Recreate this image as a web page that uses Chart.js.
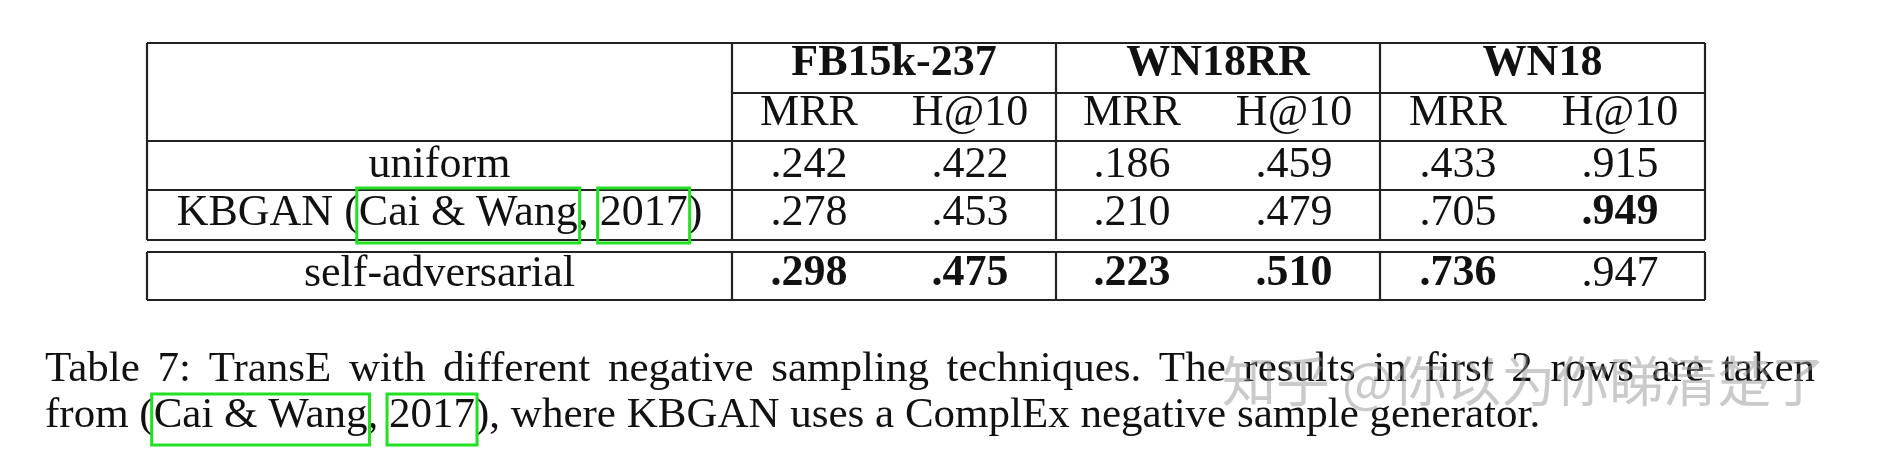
<!DOCTYPE html>
<html><head><meta charset="utf-8">
<script src="https://cdn.jsdelivr.net/npm/chart.js@4/dist/chart.umd.min.js"></script>
<style>html,body{margin:0;padding:0;background:#fff}#w{width:1899px;height:460px}</style>
</head><body><div id="w"><canvas id="c"></canvas></div>
<script>
const datasetNames = ["FB15k-237","WN18RR","WN18"];
const metrics = ["MRR","H@10"];
const rowLabels = ["uniform","KBGAN (Cai & Wang, 2017)","self-adversarial"];
const uniformVals = [".242",".422",".186",".459",".433",".915"];
const kbganVals = [".278",".453",".210",".479",".705",".949"];
const selfAdvVals = [".298",".475",".223",".510",".736",".947"];
const uniformBold = [0,0,0,0,0,0];
const kbganBold = [0,0,0,0,0,1];
const selfAdvBold = [1,1,1,1,1,0];
const captionLines = ["Table 7: TransE with different negative sampling techniques. The results in first 2 rows are taken",
  "from (Cai & Wang, 2017), where KBGAN uses a ComplEx negative sample generator."];
const watermark = "知乎 @你以为你睇清楚了";

const colX = [147,732,1056,1380,1705];
const metricX = [809,970,1132,1294,1458,1620];
const hY = [43,93,141,190,240,252,300];

const tablePlugin = {
  id:'table',
  afterDraw(chart){
    const c = chart.ctx, xs = chart.scales.x, ys = chart.scales.y;
    const X = v=>xs.getPixelForValue(v), Y = v=>ys.getPixelForValue(v);
    c.save();
    c.strokeStyle='#222'; c.lineWidth=2.2;
    const line=(x1,y1,x2,y2)=>{c.beginPath();c.moveTo(X(x1),Y(y1));c.lineTo(X(x2),Y(y2));c.stroke();};
    [hY[0],hY[2],hY[3],hY[4]].forEach(y=>line(colX[0],y,colX[4],y));
    line(colX[1],hY[1],colX[4],hY[1]);
    [hY[5],hY[6]].forEach(y=>line(colX[0],y,colX[4],y));
    colX.forEach(x=>{line(x,hY[0],x,hY[4]);line(x,hY[5],x,hY[6]);});
    c.fillStyle='#111'; c.textAlign='center'; c.textBaseline='middle';
    c.font='bold 44px "Liberation Serif"';
    datasetNames.forEach((n,i)=>c.fillText(n,X((colX[i+1]+colX[i+2])/2),Y(64)));
    c.font='44px "Liberation Serif"';
    metricX.forEach((x,i)=>c.fillText(metrics[i%2],X(x),Y(113)));
    const rows=[[uniformVals,uniformBold,165],[kbganVals,kbganBold,213],[selfAdvVals,selfAdvBold,274]];
    rows.forEach(([vals,bold,y],r)=>{
      c.font='44px "Liberation Serif"';
      c.fillText(rowLabels[r],X((colX[0]+colX[1])/2),Y(y));
      vals.forEach((v,i)=>{c.font=(bold[i]?'bold ':'')+'44px "Liberation Serif"';c.fillText(v,X(metricX[i]),Y(y));});
    });
    // caption
    c.textAlign='left'; c.textBaseline='alphabetic';
    c.font='43px "Liberation Serif"';
    const x0=X(45), x1=X(1815);
    const words=captionLines[0].split(' ');
    const tot=words.reduce((s,w)=>s+c.measureText(w).width,0);
    const gap=(x1-x0-tot)/(words.length-1);
    let cx=x0;
    words.forEach(w=>{c.fillText(w,cx,Y(381));cx+=c.measureText(w).width+gap;});
    c.fillText(captionLines[1],x0,Y(427));
    // green citation boxes
    c.strokeStyle='#22e022'; c.lineWidth=3;
    const boxFor=(text,sub,sub2,xStart,yTop,yBot)=>{
      const i=text.indexOf(sub);
      const a=xStart+c.measureText(text.slice(0,i)).width;
      c.strokeRect(a-2,yTop,c.measureText(sub).width+4,yBot-yTop);
      const j=text.indexOf(sub2);
      const b=xStart+c.measureText(text.slice(0,j)).width;
      c.strokeRect(b-2,yTop,c.measureText(sub2).width+4,yBot-yTop);
    };
    boxFor(captionLines[1],"Cai & Wang","2017",x0,Y(394),Y(445));
    c.font='44px "Liberation Serif"';
    const lx=X((colX[0]+colX[1])/2)-c.measureText(rowLabels[1]).width/2;
    boxFor(rowLabels[1],"Cai & Wang","2017",lx,Y(188),Y(243));
    // watermark
    c.font='54px "Noto Sans CJK SC"'; c.fillStyle='rgba(150,150,150,0.5)';
    c.fillText(watermark,X(1222),Y(402));
    c.restore();
  }
};

new Chart(document.getElementById('c'),{
  type:'scatter',
  data:{datasets:[{data:[],pointRadius:0}]},
  options:{responsive:true,maintainAspectRatio:false,animation:false,
    layout:{padding:0},
    plugins:{legend:{display:false},tooltip:{enabled:false}},
    scales:{
      x:{type:'linear',min:0,max:1899,display:false},
      y:{type:'linear',min:0,max:460,reverse:true,display:false}
    }},
  plugins:[tablePlugin]
});
</script></body></html>
